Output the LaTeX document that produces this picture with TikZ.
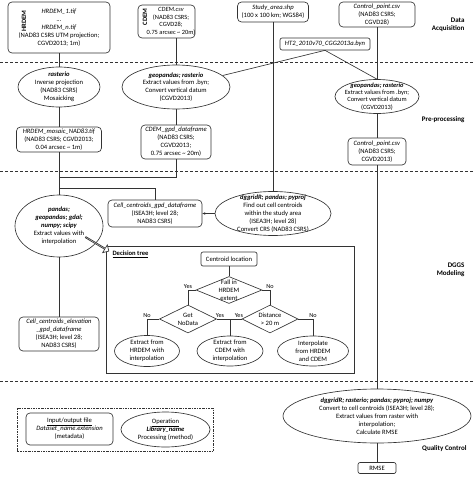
\documentclass[tikz,border=0pt]{standalone}
\usepackage{fontspec}
\setmainfont{Carlito}
\usetikzlibrary{shapes.geometric,shapes.arrows,arrows.meta}
\definecolor{LineGray}{rgb}{0.2,0.2,0.2}

\tikzset{
  iobox/.style={draw=LineGray, rounded corners=4pt, align=center, inner sep=1pt, line width=0.65pt},
  opnode/.style={draw=LineGray, ellipse, align=center, inner xsep=-12pt, inner ysep=-8pt, line width=0.65pt},
  choice/.style={draw=LineGray, diamond, align=center, inner sep=-5pt, line width=0.65pt},
  link/.style={draw=LineGray, line width=0.65pt},
  sepline/.style={draw=LineGray, line width=0.65pt, dash pattern=on 3pt off 2pt},
  seclabel/.style={anchor=east, align=right, font=\fontsize{7}{8.4}\selectfont\bfseries},
  yn/.style={font=\fontsize{6.2}{7}\selectfont, inner sep=1pt}
}

\begin{document}
\begin{tikzpicture}[x=1pt,y=1pt,yscale=-1,xscale=1,
    every node/.append style={font=\fontsize{6.6}{7.9}\selectfont}]
		\useasboundingbox (0,0) rectangle (474,479);

		% Dashed lines between the stages
		\draw[sepline] (0,62) -- (474,62);
		\draw[sepline] (0,171) -- (474,171);
		\draw[sepline] (0,381) -- (474,381);

		% Stage names on the right
		\node[seclabel] (sdata) at (468,25) {Data\\Acquisition};
		\node[seclabel] (sprep) at (468,120) {Pre-processing};
		\node[seclabel] (sdggs) at (468,270) {DGGS\\Modeling};
		\node[seclabel] (sqc) at (470,449) {Quality Control};

		% Data acquisition
		\node[iobox, minimum width=102, minimum height=51] (hrdem) at (59,27.5) {\textit{HRDEM\_1.tif}\\\textit{...}\\\textit{HRDEM\_n.tif}\\(NAD83 CSRS UTM projection;\\CGVD2013; 1m)};
		\node[rotate=90, font=\fontsize{6.6}{7.9}\selectfont\bfseries] (hrdemtag) at (24,21) {HRDEM};
		\node[iobox, minimum width=57, minimum height=33] (cdem) at (166.5,21.5) {};
		\node[rotate=90, font=\fontsize{6.6}{7.9}\selectfont\bfseries] (cdemtag) at (145,17) {CDEM};
		\node[align=center, inner sep=0pt, font=\fontsize{6.4}{7.6}\selectfont] (cdemtxt) at (171,21.5) {\textit{CDEM.csv}\\(NAD83 CSRS;\\CGVD28;\\0.75 arcsec \textasciitilde{} 20m)};
		\node[iobox, minimum width=71, minimum height=20] (study) at (273,12) {\textit{Study\_area.shp}\\(100 x 100 km; WGS84)};
		\node[iobox, rounded corners=2pt, minimum width=90, minimum height=12] (ht2) at (325,44) {\textit{HT2\_2010v70\_CGG2013a.byn}};
		\node[iobox, minimum width=76, minimum height=25] (ctrlraw) at (377,14.5) {\textit{Control\_point.csv}\\(NAD83 CSRS;\\CGVD28)};

		% Pre-processing
		\node[opnode, minimum width=82, minimum height=40] (rasterio) at (59,87) {\textbf{\textit{rasterio}}\\Inverse projection\\(NAD83 CSRS)\\Mosaicking};
		\node[opnode, minimum width=108, minimum height=44] (geocdem) at (176,87) {\textbf{\textit{geopandas; rasterio}}\\Extract values from .byn;\\Convert vertical datum\\(CGVD2013)};
		\node[opnode, minimum width=84, minimum height=34, font=\fontsize{6.4}{7.2}\selectfont] (geoctrl) at (377,96.5) {\textbf{\textit{geopandas; rasterio}}\\Extract values from .byn;\\Convert vertical datum\\(CGVD2013)};
		\node[iobox, minimum width=85, minimum height=25] (mosaic) at (59,139.5) {\textit{HRDEM\_mosaic\_NAD83.tif}\\(NAD83 CSRS; CGVD2013;\\0.04 arcsec \textasciitilde{} 1m)};
		\node[iobox, minimum width=70, minimum height=34] (cdemgpd) at (176,142) {\textit{CDEM\_gpd\_dataframe}\\(NAD83 CSRS;\\CGVD2013;\\0.75 arcsec \textasciitilde{} 20m)};
		\node[iobox, minimum width=58, minimum height=27] (ctrl) at (377,151.5) {\textit{Control\_point.csv}\\(NAD83 CSRS;\\CGVD2013)};

		% DGGS modeling
		\node[opnode, minimum width=88, minimum height=62] (pandas) at (59,226) {\textbf{\textit{pandas;}}\\\textbf{\textit{geopandas; gdal;}}\\\textbf{\textit{numpy; scipy}}\\Extract values with\\interpolation};
		\node[iobox, minimum width=94, minimum height=27] (cells) at (155,213.5) {\textit{Cell\_centroids\_gpd\_dataframe}\\(ISEA3H; level 28;\\NAD83 CSRS)};
		\node[opnode, minimum width=116, minimum height=44] (dggrid) at (273,213.5) {\textbf{\textit{dggridR; pandas; pyproj}}\\Find out cell centroids\\within the study area\\(ISEA3H; level 28)\\Convert CRS (NAD83 CSRS)};
		\node[iobox, minimum width=80, minimum height=34] (celev) at (59,334) {\textit{Cell\_centroids\_elevation}\\\textit{\_gpd\_dataframe}\\(ISEA3H; level 28;\\NAD83 CSRS)};
		\coordinate (joincdem) at (59,177);
		\coordinate (joincells) at (59,188);

		% Decision tree frame
		\node[draw=LineGray, line width=0.65pt, minimum width=248, minimum height=127, inner sep=0pt] (dtree) at (230,309.5) {};
		\node[anchor=west, font=\fontsize{6.6}{7.9}\selectfont\bfseries] (dtitle) at (109,254) {\underline{Decision tree}};
		\node[single arrow, draw=LineGray, line width=0.65pt, fill=white, minimum height=27, minimum width=9, single arrow head extend=2pt, inner sep=0pt, rotate=-31] (fatarrow) at (97,244) {};

		\node[iobox, rounded corners=2pt, minimum width=56, minimum height=14] (cloc) at (229,259) {Centroid location};
		\node[choice, minimum width=66, minimum height=27] (fall) at (229,290) {Fall in\\HRDEM\\extent};
		\node[choice, minimum width=57, minimum height=28] (nodata) at (188,319) {Get\\NoData};
		\node[choice, minimum width=56, minimum height=28] (dist) at (270,319) {Distance\\> 20 m};
		\node[opnode, minimum width=65, minimum height=31] (exhrdem) at (147,351) {Extract from\\HRDEM with\\interpolation};
		\node[opnode, minimum width=66, minimum height=30] (excdem) at (230,351) {Extract from\\CDEM with\\interpolation};
		\node[opnode, minimum width=71, minimum height=30] (interp) at (313,351) {Interpolate\\from HRDEM\\and CDEM};

		% Quality control
		\node[opnode, minimum width=188, minimum height=54] (qc) at (377,416) {\textbf{\textit{dggridR; rasterio; pandas; pyproj; numpy}}\\Convert to cell centroids (ISEA3H; level 28);\\Extract values from raster with\\interpolation;\\Calculate RMSE};
		\node[iobox, rounded corners=2pt, minimum width=38, minimum height=11] (rmse) at (377,468) {RMSE};

		% Legend
		\draw[LineGray, line width=0.65pt, dash pattern=on 2pt off 1pt on 0.6pt off 1pt] (17,408) rectangle (213,451);
		\node[iobox, minimum width=87, minimum height=32] (lgfile) at (69.5,429) {\underline{Input/output file}\\\textit{Dataset\_name.extension}\\(metadata)};
		\node[opnode, minimum width=89, minimum height=35] (lgop) at (165.5,429.5) {\underline{Operation}\\\textbf{\textit{Library\_name}}\\Processing (method)};

		% Connectors
		\draw[link] (hrdem) -- (rasterio);
		\draw[link] (rasterio) -- (mosaic);
		\draw[link] (geocdem.north |- cdem.south) -- (geocdem.north);
		\draw[link] (ht2.south) -- (geocdem);
		\draw[link] (ht2.south) -- (geoctrl.north);
		\draw[link] (ctrlraw) -- (geoctrl);
		\draw[link] (geoctrl) -- (ctrl);
		\draw[link] (ctrl) -- (qc);
		\draw[link] (study) -- (dggrid);
		\draw[link] (geocdem) -- (cdemgpd);
		\draw[link] (mosaic) -- (pandas);
		\draw[link] (cdemgpd.south) |- (joincdem);
		\draw[link] (cells.north) |- (joincells);
		\draw[link, -{Stealth[length=3pt,width=2.5pt]}] (dggrid) -- (cells);
		\draw[link] (pandas) -- (celev);
		\draw[link] (qc) -- (rmse);

		\draw[link] (cloc) -- (fall);
		\draw[link] (fall.west) -| node[yn, above] {Yes} (nodata.north);
		\draw[link] (fall.east) -| node[yn, above] {No} (dist.north);
		\draw[link] (nodata.west) -| node[yn, above] {No} (exhrdem.north);
		\draw[link] (nodata.east) -| node[yn, above, pos=0.12] {Yes} (excdem.north);
		\draw[link] (dist.west) -| node[yn, above, pos=0.12] {Yes} (excdem.north);
		\draw[link] (dist.east) -| node[yn, above] {No} (interp.north);
	\end{tikzpicture}
\end{document}
